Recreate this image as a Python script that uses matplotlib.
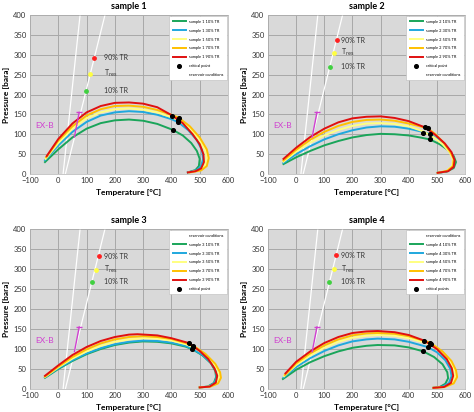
#phase envelopes, 4 samples
import numpy as np
import matplotlib.pyplot as plt

plt.rcParams['font.family'] = ['Lato', 'DejaVu Sans']

# ---- data (T in degC, P in bara) ----
tr_labels = ["10% TR", "30% TR", "50% TR", "70% TR", "90% TR"]
tr_colors = ["#1aa55a", "#1fa8de", "#ffff80", "#ffc000", "#e01010"]

s1_10 = [(-47,30),(0,62),(50,92),(100,114),(150,128),(200,135),(250,137),(300,134),(350,126),(405,111),(440,97),(470,78),(490,58),(500,38),(497,20),(485,10),(458,4)]
s1_30 = [(-47,35),(0,72),(50,106),(100,131),(150,147),(200,155),(250,158),(300,156),(350,149),(400,138),(425,130),(460,110),(490,85),(508,60),(512,38),(505,20),(490,10),(460,4)]
s1_50 = [(-45,38),(0,78),(50,114),(100,140),(150,155),(200,163),(250,165),(300,162),(350,155),(400,143),(425,136),(460,117),(495,90),(518,62),(525,40),(518,20),(500,9),(462,4)]
s1_70 = [(-43,42),(0,84),(50,120),(100,147),(150,163),(200,171),(250,172),(300,169),(350,161),(400,149),(425,142),(465,120),(500,92),(525,62),(532,40),(525,20),(505,9),(465,4)]
s1_90 = [(-41,45),(0,88),(50,127),(100,155),(150,171),(200,179),(250,180),(300,177),(350,168),(403,147),(440,128),(475,100),(500,75),(513,50),(515,30),(505,14),(485,7),(458,4)]
s1_crit_t = [403, 425, 422, 422, 405]
s1_crit_p = [147, 142, 137, 131, 111]

s2_10 = [(-45,25),(0,42),(50,58),(100,72),(150,83),(200,92),(250,98),(300,101),(350,100),(400,97),(440,92),(475,87),(510,75),(540,60),(560,45),(568,30),(560,15),(535,6),(503,3)]
s2_30 = [(-45,28),(0,50),(50,70),(100,87),(150,100),(200,110),(250,117),(300,120),(350,119),(400,114),(450,106),(477,100),(510,85),(540,65),(558,45),(562,30),(555,15),(530,6),(503,3)]
s2_50 = [(-45,31),(0,56),(50,79),(100,97),(150,111),(200,121),(250,127),(300,128),(350,126),(400,120),(452,107),(490,92),(520,75),(545,55),(557,38),(555,20),(535,8),(503,3)]
s2_70 = [(-45,34),(0,61),(50,86),(100,106),(150,121),(200,131),(250,136),(300,137),(350,134),(400,127),(468,115),(495,100),(525,78),(548,55),(560,38),(557,20),(537,8),(503,3)]
s2_90 = [(-45,38),(0,66),(50,93),(100,114),(150,130),(200,140),(250,144),(300,145),(350,141),(400,133),(459,117),(495,98),(528,77),(552,55),(563,35),(560,18),(540,7),(503,3)]
s2_crit_t = [459, 468, 452, 477, 475]
s2_crit_p = [117, 115, 104, 101, 88]

s3_10 = [(-47,28),(0,50),(50,70),(100,87),(150,100),(200,110),(250,116),(300,119),(350,118),(400,114),(450,106),(475,99),(510,84),(540,64),(555,45),(558,30),(550,15),(528,6),(500,4)]
s3_30 = [(-47,29),(0,52),(50,72),(100,89),(150,102),(200,112),(250,118),(300,121),(350,120),(400,116),(450,108),(475,100),(510,85),(540,65),(557,45),(560,30),(552,15),(530,6),(500,4)]
s3_50 = [(-47,30),(0,54),(50,76),(100,94),(150,108),(200,118),(250,124),(300,127),(350,126),(400,121),(450,112),(478,104),(515,88),(548,65),(565,45),(568,30),(560,15),(535,6),(500,4)]
s3_70 = [(-47,31),(0,56),(50,80),(100,99),(150,114),(200,124),(250,130),(300,132),(350,130),(400,125),(450,115),(480,107),(520,88),(555,63),(572,42),(575,28),(565,14),(538,6),(500,4)]
s3_90 = [(-47,33),(0,59),(50,85),(100,105),(150,120),(200,130),(250,136),(280,137),(350,134),(400,127),(461,115),(500,95),(530,75),(552,52),(562,33),(557,16),(535,6),(500,4)]
s3_crit_t = [461, 475, 478, 472]
s3_crit_p = [115, 108, 104, 100]

s4_10 = [(-47,25),(0,48),(50,67),(100,82),(150,94),(200,103),(250,108),(290,110),(350,109),(400,104),(452,94),(490,80),(520,62),(537,42),(540,27),(530,13),(510,5),(488,3)]
s4_30 = [(-45,29),(0,55),(50,77),(100,95),(150,109),(200,119),(250,124),(290,126),(350,124),(400,118),(467,105),(500,92),(530,72),(548,50),(552,32),(543,15),(520,6),(488,3)]
s4_50 = [(-43,32),(0,60),(50,84),(100,103),(150,118),(200,128),(250,133),(290,135),(350,133),(400,127),(476,112),(515,92),(545,70),(562,47),(565,30),(555,14),(525,5),(488,3)]
s4_70 = [(-40,35),(0,64),(50,89),(100,109),(150,124),(200,134),(250,139),(290,140),(350,138),(400,132),(476,116),(520,94),(552,70),(568,47),(572,30),(560,14),(528,5),(488,3)]
s4_90 = [(-38,39),(0,68),(50,94),(100,115),(150,130),(200,140),(250,144),(290,145),(350,142),(400,135),(455,121),(500,100),(535,75),(553,52),(558,33),(550,15),(525,5),(488,3)]
s4_crit_t = [455, 476, 478, 467, 452]
s4_crit_p = [121, 115, 112, 105, 94]

# reservoir points (10% TR, T_res, 90% TR)
res_t = {1: [98, 112, 127], 2: [120, 133, 145], 3: [118, 132, 143], 4: [118, 134, 143]}
res_p = {1: [210, 252, 293], 2: [270, 305, 337], 3: [268, 298, 332], 4: [268, 300, 335]}
res_names = ["10% TR", r"T$_{\rm res}$", "90% TR"]
res_colors = ["#40d040", "#ffff40", "#ff2020"]

# white guide lines
line1_t = [17, 77]
line1_p = [0, 400]
line2_t = [25, 165]
line2_p = [0, 400]

# EX-B segment
exb_t = [57, 74]
exb_p = [93, 155]

samples = [
    (1, [s1_10, s1_30, s1_50, s1_70, s1_90], s1_crit_t, s1_crit_p, "critical point", False),
    (2, [s2_10, s2_30, s2_50, s2_70, s2_90], s2_crit_t, s2_crit_p, "critical point", False),
    (3, [s3_10, s3_30, s3_50, s3_70, s3_90], s3_crit_t, s3_crit_p, "critical point", True),
    (4, [s4_10, s4_30, s4_50, s4_70, s4_90], s4_crit_t, s4_crit_p, "critical points", True),
]

positions = [
    [30/474, 1-174/412, 198/474, 159/412],
    [268/474, 1-174/412, 197/474, 159/412],
    [30/474, 1-389/412, 198/474, 160/412],
    [268/474, 1-389/412, 197/474, 160/412],
]

fig = plt.figure(figsize=(4.74, 4.12), dpi=100)

for (n, curves, ct, cp, crit_lbl, res_first), pos in zip(samples, positions):
    ax = fig.add_axes(pos)
    ax.set_facecolor("#d9d9d9")
    ax.set_xlim(-100, 600)
    ax.set_ylim(0, 400)
    ax.set_xticks(np.arange(-100, 601, 100))
    ax.set_yticks(np.arange(0, 401, 50))
    ax.grid(True, color="#a8a8a8", lw=0.7)
    ax.set_axisbelow(True)
    for sp in ax.spines.values():
        sp.set_color("#b0b0b0")
        sp.set_linewidth(0.5)
    ax.tick_params(labelsize=5.5, length=0, pad=2.5, colors="#333333")

    ax.plot(line1_t, line1_p, color="white", lw=0.9, zorder=2)
    res_line, = ax.plot(line2_t, line2_p, color="white", lw=0.9, zorder=2,
                        label="reservoir conditions")

    handles = []
    for pts, lbl, col in zip(curves, tr_labels, tr_colors):
        arr = np.array(pts)
        h, = ax.plot(arr[:, 0], arr[:, 1], color=col, lw=1.4, zorder=3,
                     label="sample %d %s" % (n, lbl))
        handles.append(h)
    crit = ax.scatter(ct, cp, s=7, color="black", zorder=5, label=crit_lbl)

    for t, p, c, name in zip(res_t[n], res_p[n], res_colors, res_names):
        ax.scatter([t], [p], s=6, color=c, zorder=5)
        ax.text(160, p, name, fontsize=5, va="center", color="#333333")

    ax.plot(exb_t, exb_p, color="#d040d0", lw=1, zorder=4)
    ax.plot(exb_t[1:], exb_p[1:], marker="_", ms=4, mew=1, color="#d040d0", zorder=4)
    ax.text(-80, 122, "EX-B", fontsize=6, color="#d040d0", va="center")

    if res_first:
        hh = [res_line] + handles + [crit]
    else:
        hh = handles + [crit, res_line]
    leg = ax.legend(handles=hh, loc="upper right", bbox_to_anchor=(1.0, 1.0),
                    fontsize=2.9, handlelength=3.2, labelspacing=1.2,
                    borderaxespad=0.3, framealpha=1, fancybox=False,
                    edgecolor="#bbbbbb", borderpad=0.9)
    leg.get_frame().set_linewidth(0.4)

    ax.set_title("sample %d" % n, fontsize=6.5, fontweight="bold", pad=4)
    ax.set_xlabel("Temperature [°C]", fontsize=6, fontweight="bold", labelpad=3)
    ax.set_ylabel("Pressure [bara]", fontsize=6, fontweight="bold", labelpad=2)

fig.savefig("out.png", dpi=100)
